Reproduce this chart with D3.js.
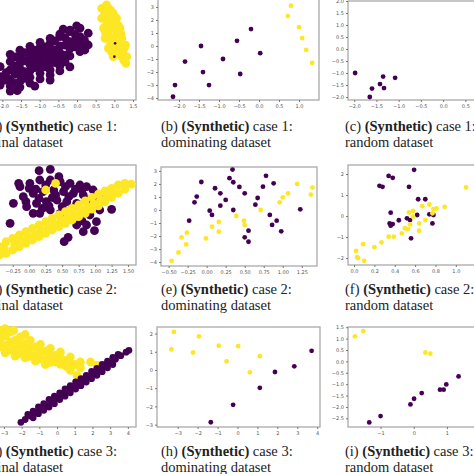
<!DOCTYPE html>
<html>
<head>
<meta charset="utf-8">
<script src="https://cdn.jsdelivr.net/npm/d3@7"></script>
<style>
  body { margin: 0; background: #fff; }
  svg { display: block; }
  .tick text { font-family: "DejaVu Sans", sans-serif; font-size: 5px; fill: #555; }
  .tick line { stroke: #777; }
  .cap { font-family: "Liberation Serif", "DejaVu Serif", serif; font-size: 14.5px; fill: #222; }
</style>
</head>
<body>
<svg id="fig" width="474" height="474"></svg>
<script>
// ---- data: [x, y] pairs per class ----
// (a) case 1 original
var aPurple = [[-2.06,-0.99],[-2.06,-1.59],[-2.06,-2.1],[-1.79,-0.69],[-1.79,-1.19],[-1.79,-1.76],[-1.79,-2.16],
  [-1.53,-0.39],[-1.53,-0.79],[-1.53,-1.11],[-1.53,-1.49],[-1.53,-1.9],[-1.26,-0.09],[-1.26,-0.49],[-1.26,-0.87],[-1.26,-1.25],[-1.26,-1.63],
  [-0.99,0.17],[-0.99,-0.23],[-0.99,-0.63],[-0.99,-1.03],[-0.99,-1.39],[-0.72,0.41],[-0.72,0.01],[-0.72,-0.39],[-0.72,-0.79],[-0.72,-1.19],
  [-0.46,0.82],[-0.46,0.25],[-0.46,-0.15],[-0.46,-0.55],[-0.46,-0.95],[-0.19,1.12],[-0.19,0.51],[-0.19,0.09],[-0.19,-0.35],
  [0.08,1.32],[0.08,0.82],[0.08,0.33],[0.08,-0.09],[0.3,1.02],[0.3,0.31],
  [-1.6,-2.44],[-0.37,1.26],[-0.01,1.46],[0.21,0.01],[-1.13,-2.16],[-0.72,-1.8],
  [-1.9,-1.35],[-1.65,-0.95],[-1.4,-0.65],[-1.12,-0.35],[-0.85,-0.1],[-0.6,0.55],[-0.32,0.75],[-0.05,0.95],[-1.4,-1.7],[-0.85,-1.0],[-0.32,-0.3],
  [-1.79,-0.25],[-1.79,-2.46],[-1.53,0.0],[-1.53,-2.22],[-1.26,0.23],[-1.26,-1.98],[-0.99,0.47],[-0.99,-1.73],
  [-0.72,0.71],[-0.72,-1.49],[-0.46,0.96],[-0.46,-1.25],[-0.19,1.2],[-0.19,-1.01],
  [-1.93,-1.8],[-1.66,-1.45],[-1.4,-1.3],[-1.13,-1.05],[-0.86,-0.6],[-0.59,-0.35],[-0.32,0.3],[-0.05,0.6],[0.2,0.6],
  [-1.66,-0.4],[-1.13,0.0],[-0.59,0.0],[-0.05,0.2],[-1.4,-0.15],[-0.86,0.2],[-1.13,-0.7],[-0.59,-0.75],[-1.66,-2.0],[-0.32,-0.7]];
var aYellow = [[0.66,2.52],[0.84,2.52],[0.79,2.72],[0.66,1.92],[0.88,1.92],[1.06,1.92],[0.71,1.32],[0.93,1.32],[1.15,1.32],
  [0.75,0.71],[0.97,0.71],[1.2,0.71],[0.84,0.11],[1.06,0.11],[1.26,0.11],[0.97,-0.39],[1.2,-0.39],[1.33,-0.39],[1.31,-0.79],
  [0.75,2.22],[0.97,2.22],[0.8,1.62],[1.02,1.62],[0.82,1.02],[1.06,1.02],[0.9,0.41],[1.14,0.41],[1.1,-0.15],[1.25,-0.6],
  [0.72,2.0],[0.9,2.4],[0.76,1.1],[1.1,1.5],[0.88,0.75],[1.18,1.0],[1.0,0.25],[1.3,0.3],[0.92,-0.1],[1.2,-0.2]];
var aPurpleIn = [[1.02,0.41],[1.0,-0.39]];
// (b) case 1 dominating
var bPurple = [[-2.15,-3.9],[-2.1,-3.0],[-1.85,-1.2],[-1.45,0.0],[-1.4,-2.0],[-1.25,-3.0],[-0.9,-1.0],[-0.55,0.4],[-0.2,1.3],[0.03,-0.55],[-0.47,-2.15]];
var bYellow = [[0.8,3.1],[0.72,2.3],[1.0,1.45],[1.08,0.6],[1.18,-0.3],[1.33,-1.3]];
// (c) case 1 random
var cPurple = [[-1.98,-1.0],[-1.6,-1.65],[-1.65,-2.0],[-1.42,-1.46],[-1.35,-1.15],[-1.33,-1.63],[-1.08,-1.2]];
var cYellow = [];
// (d) case 2 original
var dPurple = [[-0.14,1.7],[0.01,1.9],[0.16,2.1],[0.32,2.1],[0.47,2.0],[0.62,1.9],[0.77,1.8],[0.87,1.7],
  [-0.09,1.1],[0.06,1.3],[0.21,1.4],[0.37,1.5],[0.52,1.4],[0.67,1.3],[0.82,1.2],[0.97,1.5],
  [-0.04,0.5],[0.11,0.7],[0.26,0.8],[0.42,0.9],[0.57,0.8],[0.72,0.7],[0.87,0.9],[1.02,1.1],
  [0.16,0.1],[0.32,0.3],[0.47,0.1],[0.62,-0.2],[0.77,-0.1],[0.92,0.0],[1.07,0.3],
  [0.72,-0.6],[0.87,-0.6],[1.02,-0.4],[0.82,-1.0],[0.99,-0.94],[0.59,-1.34],[0.53,-1.6],
  [0.32,2.74],[0.15,2.66],[-0.16,1.9],[-0.24,0.7],[-0.29,-0.5],[1.25,0.34],[1.12,0.9],[0.06,0.1],
  [0.4,1.2],[0.55,1.7],[0.25,1.8],[0.1,1.55],[0.7,1.55],[0.3,0.55],[0.5,0.5],
  [-0.05,0.8],[0.15,1.0],[0.35,1.05],[0.6,1.1],[0.8,1.5],[0.45,2.3],[0.2,0.4],[0.0,1.6],[0.65,0.4],[0.9,0.4],[0.8,-0.35]];
var dYellow = [[-0.45,-2.4],[-0.45,-1.9],[-0.35,-2.3],[-0.35,-1.6],[-0.38,-2.0],[-0.25,-2.1],[-0.25,-1.4],[-0.22,-1.75],
  [-0.15,-1.9],[-0.15,-1.2],[-0.12,-1.55],[-0.05,-1.7],[-0.05,-1.0],[-0.02,-1.35],[0.05,-1.5],[0.05,-0.8],[0.08,-1.15],
  [0.15,-1.3],[0.15,-0.6],[0.18,-0.95],[0.25,-1.1],[0.25,-0.4],[0.28,-0.75],[0.35,-0.9],[0.35,-0.2],[0.38,-0.55],
  [0.45,-0.7],[0.45,0.0],[0.48,-0.35],[0.55,-0.5],[0.55,0.2],[0.58,-0.15],[0.65,-0.3],[0.65,0.4],[0.68,0.05],
  [0.75,-0.1],[0.75,0.6],[0.78,0.25],[0.85,0.1],[0.85,0.85],[0.88,0.45],[0.95,0.35],[0.95,1.05],[0.98,0.65],
  [1.05,0.55],[1.05,1.25],[1.08,0.9],[1.15,0.8],[1.15,1.45],[1.18,1.1],[1.25,1.05],[1.25,1.6],[1.28,1.3],
  [1.35,1.3],[1.35,1.8],[1.45,1.55],[1.45,1.9],[1.55,1.85],[-0.55,-2.3],[-0.6,-2.6],[0.25,1.5],[0.4,1.9]];
// (e) case 2 dominating
var ePurple = [[-0.23,-0.82],[-0.16,0.59],[-0.13,1.03],[-0.07,2.15],[0.04,-0.05],[0.07,-0.38],[0.11,1.67],[0.18,1.28],[0.18,0.33],
  [0.25,0.77],[0.3,2.44],[0.34,3.1],[0.35,2.13],[0.35,0.0],[0.43,1.77],[0.5,1.28],[0.5,-2.1],[0.55,-1.59],[0.55,-2.44],
  [0.64,0.41],[0.67,0.92],[0.74,1.79],[0.78,2.62],[0.83,-0.38],[0.88,2.05],[0.86,-1.15],[0.92,-0.82],[0.98,-1.64],[1.23,0.05]];
var eYellow = [[-0.46,-3.9],[-0.37,-3.26],[-0.33,-2.1],[-0.27,-2.64],[-0.26,-1.74],[-0.01,-2.18],[0.07,-1.28],[0.16,-0.92],
  [0.16,-1.67],[0.39,-0.46],[0.49,-0.82],[0.5,-1.15],[0.71,0.0],[0.96,0.59],[1.0,0.97],[1.07,1.28],[1.19,2.0],[1.37,1.18],[1.39,1.72]];
// (f) case 2 random
var fPurple = [[0.25,1.44],[0.28,1.39],[0.34,1.91],[0.38,1.82],[0.36,0.16],[0.54,1.39],[0.59,2.2],[0.35,-0.35],[0.36,-0.46],
  [0.38,-0.38],[0.44,-0.2],[0.52,-0.11],[0.55,-0.19],[0.56,-1.06],[0.62,0.05],[0.63,0.8],[0.7,0.8],[0.74,0.08],[0.78,0.05],[0.77,-0.35]];
var fYellow = [[0.02,-1.66],[0.03,-1.96],[0.04,-2.0],[0.1,-2.13],[0.09,-1.34],[0.2,-1.48],[0.27,-1.25],[0.34,-0.98],[0.39,-0.98],
  [0.47,-0.82],[0.5,-0.58],[0.53,-0.62],[0.55,-0.4],[0.58,-0.03],[0.54,0.17],[0.58,0.24],[0.64,-0.7],[0.64,-0.35],[0.67,0.47],
  [0.7,-0.19],[0.74,0.55],[0.77,0.13],[0.78,0.33],[0.81,0.36],[0.89,0.44],[1.1,1.36]];
// (g) case 3 original
var gPurple = [[-2.04,-2.72],[-1.8,-2.55],[-1.5,-2.34],[-1.2,-2.13],[-0.9,-1.92],[-0.6,-1.7],[-0.3,-1.49],[0.0,-1.28],[0.3,-1.06],
  [0.6,-0.85],[0.9,-0.64],[1.2,-0.43],[1.5,-0.21],[1.8,0.0],[2.1,0.21],[2.4,0.43],[2.7,0.64],[3.0,0.85],[3.3,1.06],[3.6,1.28],[3.9,1.49],[4.06,1.6],
  [-1.65,-2.25],[-1.35,-2.05],[-1.05,-1.8],[-0.75,-1.6],[-0.45,-1.35],[-0.15,-1.15],[0.15,-0.95],[0.45,-0.72],[0.75,-0.52],[1.05,-0.3],
  [1.35,-0.1],[1.65,0.1],[1.95,0.33],[2.25,0.52],[2.55,0.75],[2.85,0.95],[3.15,1.18],[3.45,1.36],
  [-1.35,-2.45],[-1.05,-2.2],[-0.75,-2.0],[-0.45,-1.8],[-0.15,-1.6],[0.15,-1.35],[0.45,-1.15],[0.75,-0.95],[1.05,-0.72],
  [1.35,-0.52],[1.65,-0.3],[1.95,-0.1],[2.25,0.1],[2.55,0.32],[2.85,0.55],[3.15,0.75]];
var gYellow = [[-3.77,2.9],[-3.77,2.5],[-3.77,2.0],[-3.21,2.8],[-3.21,2.3],[-3.21,1.8],[-2.64,2.7],[-2.64,2.1],[-2.64,1.6],
  [-2.08,2.4],[-2.08,1.9],[-2.08,1.4],[-1.51,2.2],[-1.51,1.72],[-1.51,1.24],[-0.94,1.96],[-0.94,1.52],[-0.94,1.08],
  [-0.38,1.72],[-0.38,1.32],[-0.38,0.88],[0.19,1.5],[0.19,1.14],[0.19,0.76],[0.75,1.2],[0.75,0.8],[0.75,0.4],
  [1.32,0.9],[1.32,0.56],[1.89,0.9],[-2.45,2.8],[0.57,0.6],[1.13,0.1],[2.26,0.7],
  [-3.5,2.65],[-2.93,2.45],[-2.36,2.2],[-1.8,2.0],[-1.22,1.8],[-0.66,1.55],[-0.1,1.3],[0.47,1.0],[1.0,0.75],
  [-3.5,2.1],[-2.93,1.9],[-2.36,1.7],[-1.8,1.5],[-1.22,1.3],[-0.66,1.05],[-0.1,0.9],[0.47,0.7],
  [-3.5,1.6],[-2.93,1.45],[-2.36,1.25],[-1.8,1.15],[-1.22,0.95],[-0.66,0.75],[-3.5,3.0],[-2.93,2.9],[-1.8,2.55]];
// (h) case 3 dominating
var hPurple = [[-1.34,-2.87],[-0.22,-1.91],[1.12,-0.98],[1.88,-0.11],[2.85,0.2],[3.72,1.05]];
var hYellow = [[-3.32,1.13],[-3.19,2.09],[-2.23,0.96],[-1.93,1.85],[-0.94,1.33],[-0.55,0.47],[0.03,1.31],[0.62,-0.13],[1.12,0.76]];
// (i) case 3 random
var iPurple = [[-1.34,-2.68],[-1.0,-2.4],[-0.1,-1.89],[0.01,-1.64],[0.24,-1.39],[0.79,-1.24],[0.9,-1.24],[0.98,-1.01],[1.35,-0.66]];
var iYellow = [[-1.77,1.1],[-1.52,1.33],[0.35,0.39],[0.5,0.34]];

var PURPLE = "#440154", YELLOW = "#fde725";
var svg = d3.select("#fig");

function panel(p) {
  var x = d3.scaleLinear().domain(p.xd).range([p.l, p.r]);
  var y = d3.scaleLinear().domain(p.yd).range([p.b, p.t]);
  var g = svg.append("g");
  g.append("rect").attr("x", p.l).attr("y", p.t).attr("width", p.r - p.l).attr("height", p.b - p.t)
    .attr("fill", "#fff").attr("stroke", "#aaa").attr("stroke-width", 1.3);
  var xa = d3.axisBottom(x).tickValues(p.xt).tickFormat(d3.format(p.xf)).tickSize(2).tickPadding(2);
  g.append("g").attr("transform", "translate(0," + p.b + ")").call(xa).select(".domain").remove();
  if (p.yt) {
    var ya = d3.axisLeft(y).tickValues(p.yt).tickFormat(d3.format(p.yf)).tickSize(2).tickPadding(2);
    g.append("g").attr("transform", "translate(" + p.l + ",0)").call(ya).select(".domain").remove();
  }
  var pts = g.append("g");
  p.layers.forEach(function (L) {
    pts.selectAll(null).data(L.data).enter().append("circle")
      .attr("cx", function (d) { return x(d[0]); })
      .attr("cy", function (d) { return y(d[1]); })
      .attr("r", L.r).attr("fill", L.c);
  });
}

var big = 4.4, small = 2.4;
panel({l: -60, r: 136, t: -8, b: 100, xd: [-3.67, 1.58], yd: [-3, 3.5], xt: [-2, -1.5, -1, -0.5, 0, 0.5, 1, 1.5], xf: ".1f",
  layers: [{data: aPurple, c: PURPLE, r: big}, {data: aYellow, c: YELLOW, r: big}, {data: aPurpleIn, c: PURPLE, r: 1.3}]});
panel({l: 158, r: 319, t: -2, b: 100, xd: [-2.525, 1.5], yd: [-4.15, 3.69], xt: [-2, -1.5, -1, -0.5, 0, 0.5, 1], xf: ".1f",
  yt: [-4, -3, -2, -1, 0, 1, 2, 3], yf: "d",
  layers: [{data: bPurple, c: PURPLE, r: small}, {data: bYellow, c: YELLOW, r: small}]});
panel({l: 348, r: 520, t: 1, b: 100, xd: [-2.14, 1.73], yd: [-2.125, 2.0], xt: [-2, -1.5, -1, -0.5, 0, 0.5, 1], xf: ".1f",
  yt: [-2, -1.5, -1, -0.5, 0, 0.5, 1, 1.5, 2], yf: ".1f",
  layers: [{data: cPurple, c: PURPLE, r: small}, {data: cYellow, c: YELLOW, r: small}]});
panel({l: -40, r: 136, t: 165, b: 265, xd: [-1.05, 1.62], yd: [-3, 3], xt: [-0.25, 0, 0.25, 0.5, 0.75, 1, 1.25, 1.5], xf: ".2f",
  layers: [{data: dPurple, c: PURPLE, r: big}, {data: dYellow, c: YELLOW, r: big}]});
panel({l: 161, r: 317, t: 167, b: 266, xd: [-0.6, 1.45], yd: [-4.3, 3.3], xt: [-0.5, -0.25, 0, 0.25, 0.5, 0.75, 1, 1.25], xf: ".2f",
  yt: [-4, -3, -2, -1, 0, 1, 2, 3], yf: "d",
  layers: [{data: ePurple, c: PURPLE, r: small}, {data: eYellow, c: YELLOW, r: small}]});
panel({l: 348, r: 520, t: 165, b: 265, xd: [-0.059, 1.63], yd: [-2.33, 2.43], xt: [0, 0.2, 0.4, 0.6, 0.8, 1.0], xf: ".1f",
  yt: [-2, -1, 0, 1, 2], yf: "d",
  layers: [{data: fPurple, c: PURPLE, r: small}, {data: fYellow, c: YELLOW, r: small}]});
panel({l: -40, r: 136, t: 327, b: 427, xd: [-5.48, 4.46], yd: [-3, 3], xt: [-3, -2, -1, 0, 1, 2, 3, 4], xf: "d",
  layers: [{data: gYellow, c: YELLOW, r: big}, {data: gPurple, c: PURPLE, r: 3.4}]});
panel({l: 157, r: 320, t: 327, b: 427, xd: [-4.04, 4.14], yd: [-3.13, 2.36], xt: [-3, -2, -1, 0, 1, 2, 3, 4], xf: "d",
  yt: [-3, -2, -1, 0, 1, 2], yf: "d",
  layers: [{data: hPurple, c: PURPLE, r: small}, {data: hYellow, c: YELLOW, r: small}]});
panel({l: 348, r: 520, t: 327, b: 427, xd: [-1.98, 3.2], yd: [-2.88, 1.51], xt: [-1, 0, 1], xf: "d",
  yt: [-2.5, -2, -1.5, -1, -0.5, 0, 0.5, 1, 1.5], yf: ".1f",
  layers: [{data: iPurple, c: PURPLE, r: small}, {data: iYellow, c: YELLOW, r: small}]});

// ---- captions ----
var captions = [
  {x: 117, y: 131, anchor: "end", lab: "(a)", n: "1", line2: "original dataset", x2: 63},
  {x: 161, y: 131, anchor: "start", lab: "(b)", n: "1", line2: "dominating dataset"},
  {x: 345, y: 131, anchor: "start", lab: "(c)", n: "1", line2: "random dataset"},
  {x: 117, y: 294, anchor: "end", lab: "(d)", n: "2", line2: "original dataset", x2: 63},
  {x: 161, y: 294, anchor: "start", lab: "(e)", n: "2", line2: "dominating dataset"},
  {x: 345, y: 294, anchor: "start", lab: "(f)", n: "2", line2: "random dataset"},
  {x: 117, y: 456, anchor: "end", lab: "(g)", n: "3", line2: "original dataset", x2: 63},
  {x: 161, y: 456, anchor: "start", lab: "(h)", n: "3", line2: "dominating dataset"},
  {x: 345, y: 456, anchor: "start", lab: "(i)", n: "3", line2: "random dataset"}
];
captions.forEach(function (c) {
  var t = svg.append("text").attr("class", "cap").attr("x", c.x).attr("y", c.y).attr("text-anchor", c.anchor);
  t.append("tspan").text(c.lab + " ");
  t.append("tspan").attr("font-weight", "bold").text("(Synthetic)");
  t.append("tspan").text(" case " + c.n + ":");
  svg.append("text").attr("class", "cap").attr("x", c.x2 !== undefined ? c.x2 : c.x).attr("y", c.y + 16)
    .attr("text-anchor", c.anchor).text(c.line2);
});
</script>
</body>
</html>
